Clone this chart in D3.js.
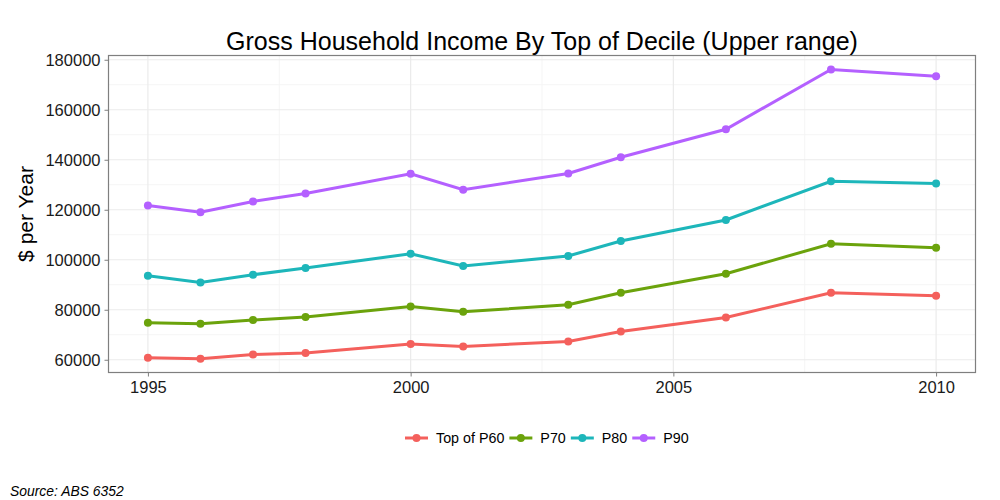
<!DOCTYPE html>
<html><head><meta charset="utf-8">
<script src="https://cdn.jsdelivr.net/npm/d3@7"></script>
<style>body{margin:0;background:#fff;} svg{display:block;font-family:"Liberation Sans",Arial,Helvetica,sans-serif;}</style>
</head><body>
<svg id="chart" width="1000" height="500"></svg>
<script>
const years = [1995, 1996, 1997, 1998, 2000, 2001, 2003, 2004, 2006, 2008, 2010];
const seriesNames = ["Top of P60", "P70", "P80", "P90"];
const p60 = [60800, 60400, 62100, 62700, 66300, 65300, 67300, 71300, 76900, 86800, 85600];
const p70 = [74800, 74400, 75900, 77100, 81300, 79200, 82000, 86800, 94400, 106400, 104800];
const p80 = [93600, 90900, 94000, 96700, 102400, 97500, 101500, 107500, 115900, 131400, 130500];
const p90 = [121700, 119000, 123300, 126500, 134400, 128000, 134500, 141000, 152200, 176100, 173400];
const colors = ["#F4605C", "#6BA30C", "#1DB6BA", "#B460FF"];
const yTicks = [60000, 80000, 100000, 120000, 140000, 160000, 180000];
const yMinor = [70000, 90000, 110000, 130000, 150000, 170000];
const xTicks = [1995, 2000, 2005, 2010];
const xMinor = [1997.5, 2002.5, 2007.5];
const titleText = "Gross Household Income By Top of Decile (Upper range)";
const yLabel = "$ per Year";
const sourceText = "Source: ABS 6352";

const allSeries = [p60, p70, p80, p90];
const svg = d3.select("#chart");
const L = 108.5, R = 975.5, T = 55.5, B = 372.5;
const x = d3.scaleLinear().domain([1994.25, 2010.75]).range([L, R]);
const y = d3.scaleLinear().domain([54900, 181700]).range([B, T]);

const g = svg.append("g");
// minor grid
g.selectAll(".ymin").data(yMinor).enter().append("line")
  .attr("x1", L).attr("x2", R).attr("y1", d => y(d)).attr("y2", d => y(d))
  .attr("stroke", "#f5f5f5").attr("stroke-width", 1);
g.selectAll(".xmin").data(xMinor).enter().append("line")
  .attr("y1", T).attr("y2", B).attr("x1", d => x(d)).attr("x2", d => x(d))
  .attr("stroke", "#f5f5f5").attr("stroke-width", 1);
// major grid
g.selectAll(".ymaj").data(yTicks).enter().append("line")
  .attr("x1", L).attr("x2", R).attr("y1", d => y(d)).attr("y2", d => y(d))
  .attr("stroke", "#ebebeb").attr("stroke-width", 1.2);
g.selectAll(".xmaj").data(xTicks).enter().append("line")
  .attr("y1", T).attr("y2", B).attr("x1", d => x(d)).attr("x2", d => x(d))
  .attr("stroke", "#ebebeb").attr("stroke-width", 1.2);

// axes
const yAxis = d3.axisLeft(y).tickValues(yTicks).tickSize(4).tickPadding(4).tickFormat(d3.format("d"));
const xAxis = d3.axisBottom(x).tickValues(xTicks).tickSize(4).tickPadding(5).tickFormat(d3.format("d"));
const ya = svg.append("g").attr("transform", `translate(${L},0)`).call(yAxis);
const xa = svg.append("g").attr("transform", `translate(0,${B})`).call(xAxis);
[ya, xa].forEach(a => {
  a.select(".domain").remove();
  a.selectAll(".tick line").attr("stroke", "#7f7f7f");
  a.selectAll(".tick text").attr("fill", "#1a1a1a").style("font-size", "16.5px");
});

// lines & points
const line = d3.line().x((d, i) => x(years[i])).y(d => y(d));
allSeries.forEach((s, k) => {
  svg.append("path").datum(s).attr("d", line).attr("fill", "none")
    .attr("stroke", colors[k]).attr("stroke-width", 3);
  svg.selectAll(".pt" + k).data(s).enter().append("circle")
    .attr("cx", (d, i) => x(years[i])).attr("cy", d => y(d)).attr("r", 4)
    .attr("fill", colors[k]);
});

// panel border
svg.append("rect").attr("x", L).attr("y", T).attr("width", R - L).attr("height", B - T)
  .attr("fill", "none").attr("stroke", "#7f7f7f").attr("stroke-width", 1.2);

// title
svg.append("text").attr("x", (L + R) / 2).attr("y", 50).attr("text-anchor", "middle")
  .style("font-size", "25px").attr("fill", "#000").text(titleText);
// y label
svg.append("text").attr("transform", `translate(33,${(T + B) / 2}) rotate(-90)`)
  .attr("text-anchor", "middle").style("font-size", "21px").attr("fill", "#000").text(yLabel);

// legend
const legend = svg.append("g");
let lx = 405;
const ly = 438;
seriesNames.forEach((n, k) => {
  const it = legend.append("g");
  it.append("line").attr("x1", lx).attr("x2", lx + 23).attr("y1", ly).attr("y2", ly)
    .attr("stroke", colors[k]).attr("stroke-width", 3);
  it.append("circle").attr("cx", lx + 11.5).attr("cy", ly).attr("r", 4).attr("fill", colors[k]);
  const t = it.append("text").attr("x", lx + 31).attr("y", ly + 5).style("font-size", "14.3px")
    .attr("fill", "#000").text(n);
  const w = t.node().getComputedTextLength();
  lx = lx + 31 + w + 5;
});

// source
svg.append("text").attr("x", 10).attr("y", 496).style("font-size", "13.9px").style("font-style", "italic")
  .attr("fill", "#000").text(sourceText);
</script>
</body></html>
